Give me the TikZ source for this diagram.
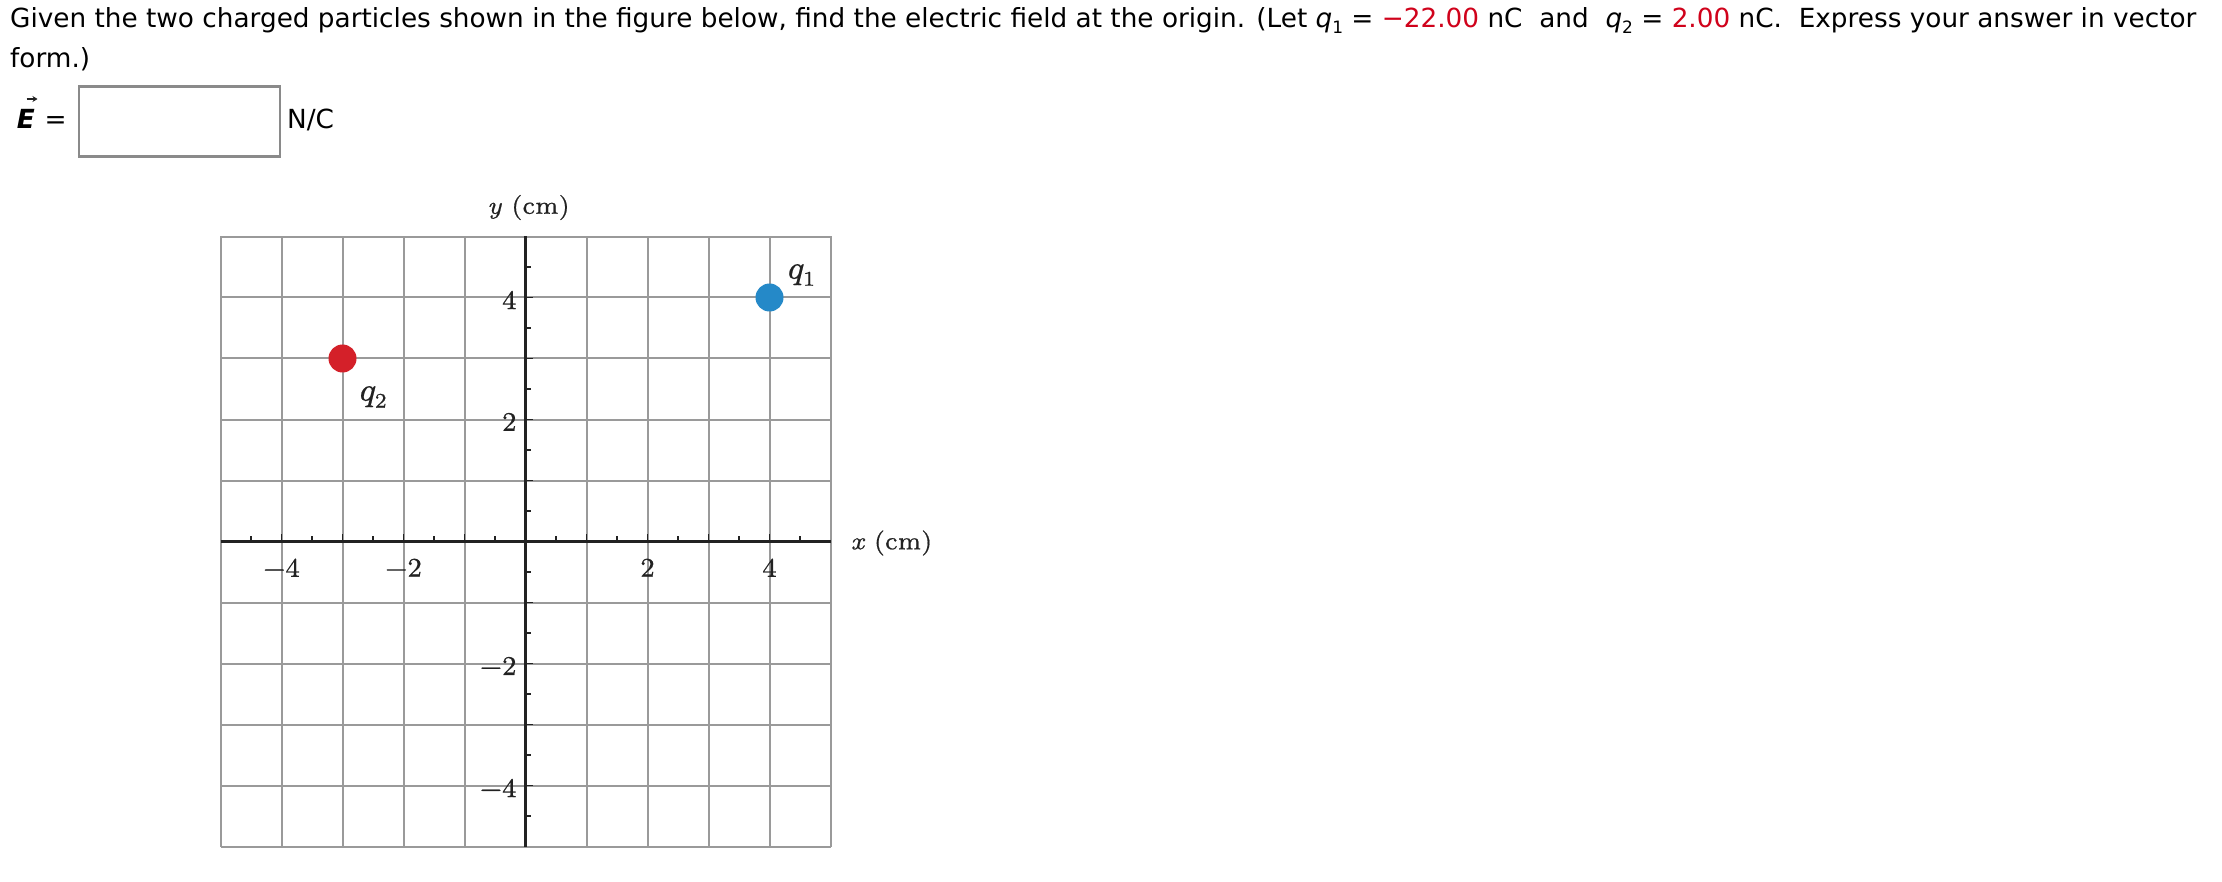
\documentclass[tikz,border=0pt]{standalone}
\usepackage{fontspec}
\usepackage{graphicx}
\usetikzlibrary{arrows.meta}
\newfontfamily\webfont{DejaVu Sans}
\newfontfamily\grfont{lmroman7-regular.otf}[ItalicFont=lmroman7-italic.otf, FakeBold=0.6]
\newfontfamily\tkfont{lmroman8-regular.otf}[FakeBold=0.6]
\definecolor{qred}{HTML}{D0021B}
\definecolor{gridc}{HTML}{9A9A9A}
\definecolor{axisc}{HTML}{222222}
\definecolor{boxc}{HTML}{8A8A8A}
\definecolor{dotblue}{HTML}{2589C8}
\definecolor{dotred}{HTML}{D42029}
\newcommand\qsym[1]{{\itshape q}\raisebox{-6pt}{\fontsize{17}{17}\selectfont #1}}
\newcommand\qlabel[1]{{\itshape q}\raisebox{-7pt}{\fontsize{21}{21}\selectfont #1}}
\tikzset{
  qtext/.style={anchor=base west, inner sep=0pt, font=\webfont\fontsize{26.3}{26.3}\selectfont},
  gridline/.style={draw=gridc, line width=2pt},
  axisline/.style={draw=axisc, line width=2.4pt},
  tickline/.style={draw=axisc, line width=1.6pt},
  charge/.style={circle, inner sep=0pt, minimum size=28pt, draw=none},
  ticklab/.style={inner sep=0pt, text=axisc, font=\tkfont\fontsize{27}{27}\selectfont},
  qlab/.style={inner sep=0pt, text=axisc, font=\grfont\fontsize{33}{33}\selectfont},
  axlab/.style={inner sep=0pt, text=axisc, font=\grfont\fontsize{25}{25}\selectfont}
}
\begin{document}
\begin{tikzpicture}[x=1pt,y=-1pt]
\useasboundingbox[fill=white] (0,0) rectangle (2222,882);
% question text
\node[qtext] (line1) at (10,28) {Given the two charged particles shown in the figure below, find the electric field at the origin. (Let \qsym{1} = \textcolor{qred}{−22.00} nC\ \ and\ \ \qsym{2} = \textcolor{qred}{2.00} nC.\ \ Express your answer in vector};
\node[qtext] (line2) at (10,68) {form.)};
\node[qtext] (evec) at (16.7,128.3) {\bfseries\itshape E};
\coordinate (arrS) at (26.5,99);
\coordinate (arrE) at (37.5,99);
\draw[draw=axisc, line width=1.3pt, -{Stealth[length=5pt,width=6pt]}] (arrS) -- (arrE);
\node[qtext] (eq) at (44.5,128.3) {=};
\node[draw=boxc, line width=2.2pt, anchor=north west, minimum width=201pt, minimum height=70pt, inner sep=0pt] (ansbox) at (77.5,85.5) {};
\node[qtext] (unit) at (287,128.3) {N/C};
% graph
\begin{scope}[shift={(525.5,541.5)}, x=61pt, y=61pt]
  \draw[gridline, step=1] (-5,-5) grid (5,5);
  \coordinate (xl) at (-5,0);
  \coordinate (xr) at (5,0);
  \coordinate (yb) at (0,-5);
  \coordinate (yt) at (0,5);
  \draw[axisline] (xl) -- (xr);
  \draw[axisline] (yb) -- (yt);
  \foreach \i in {-4.5,-3.5,...,4.5} {
    \draw[tickline] (\i,0) -- (\i,0.09);
    \draw[tickline] (0,\i) -- (0.09,\i);
  }
  \foreach \i in {-4,...,4} {
    \draw[tickline] (\i,0) -- (\i,0.12);
    \draw[tickline] (0,\i) -- (0.13,\i);
  }
  \foreach \v/\t in {-4/−4,-2/−2,2/2,4/4} {
    \node[ticklab] at (\v,-0.43) {\t};
    \node[ticklab, anchor=east] at (-0.145,\v-0.04) {\t};
  }
  \node[axlab] (ylab) at (0.05,5.475) {{\itshape y}\ (cm)};
  \node[axlab] (xlab) at (6.0,-0.025) {{\itshape x}\ (cm)};
  \node[charge, fill=dotblue] (q1) at (4,4) {};
  \node[charge, fill=dotred] (q2) at (-3,3) {};
  \node[qlab] (q1lab) at (4.5,4.37) {\qlabel{1}};
  \node[qlab] (q2lab) at (-2.52,2.37) {\qlabel{2}};
\end{scope}
\end{tikzpicture}
\end{document}
